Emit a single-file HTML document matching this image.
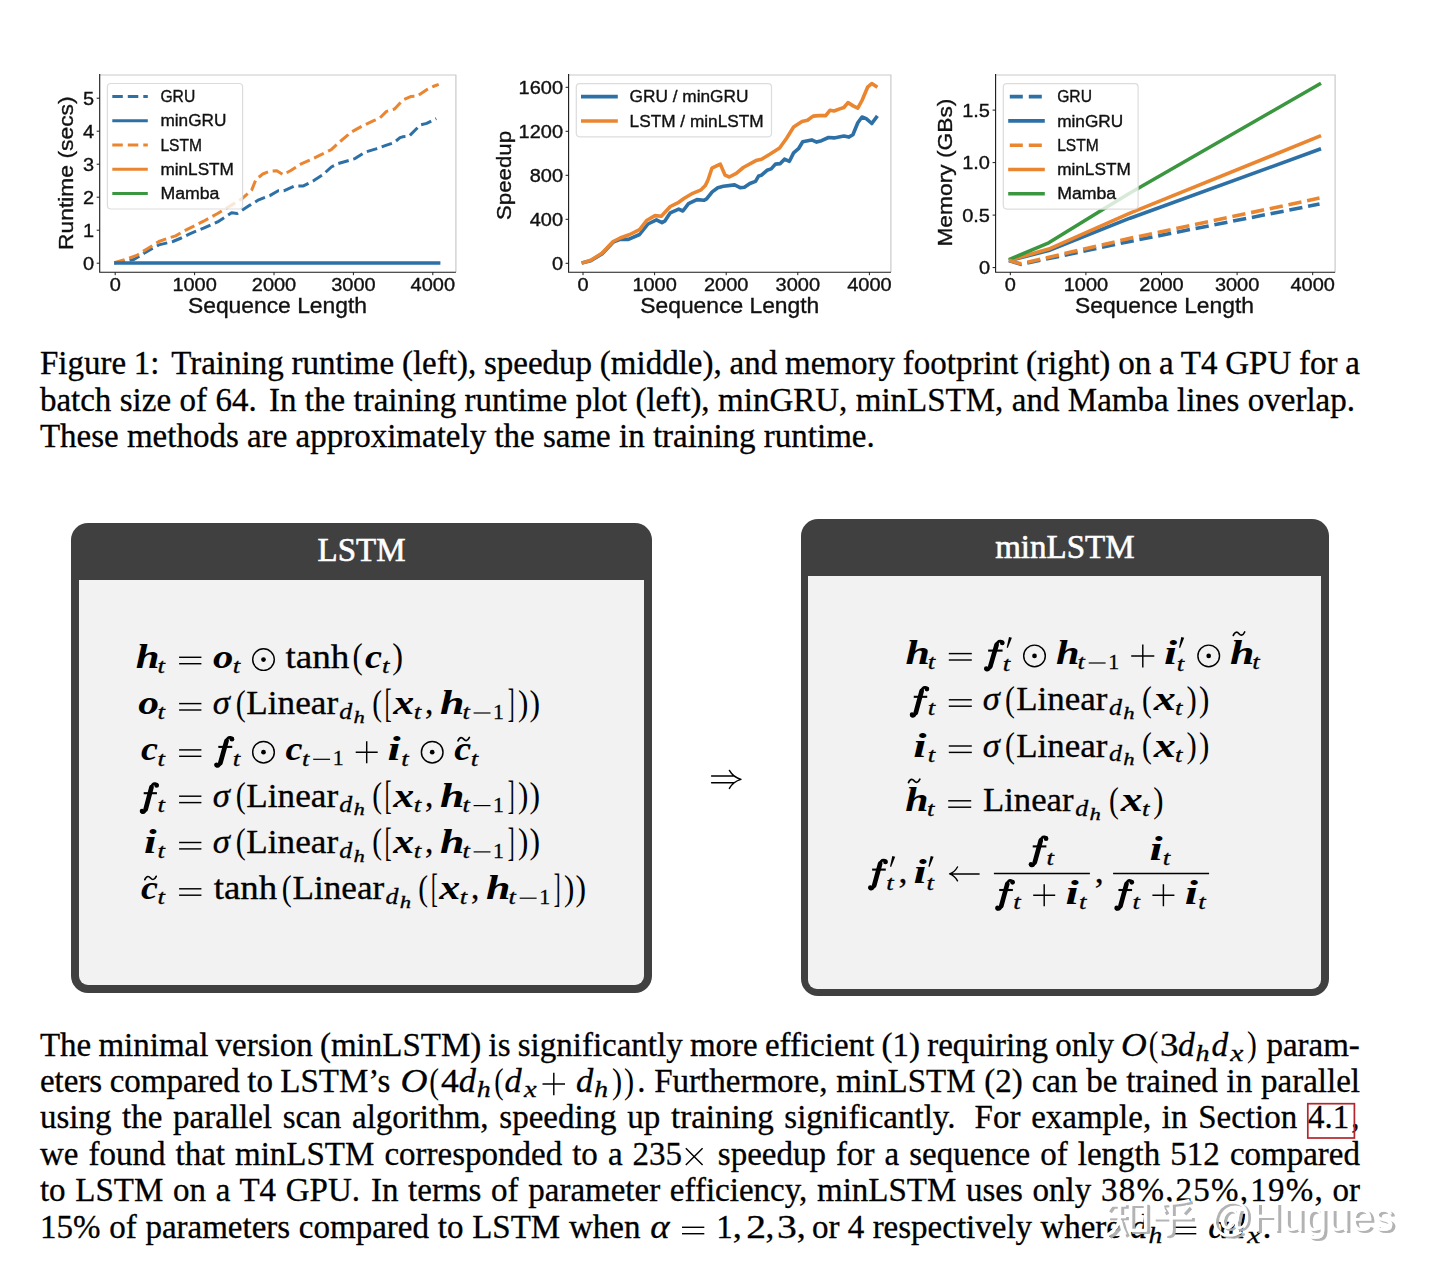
<!DOCTYPE html>
<html><head><meta charset="utf-8"><title>minLSTM</title>
<style>
html,body{margin:0;padding:0;background:#fff;}
body{width:1432px;height:1282px;position:relative;overflow:hidden;font-family:"Liberation Serif",serif;color:#000;}
svg{position:absolute;left:0;top:0;}
svg text{fill:#000;}
.sans text{font-family:"Liberation Sans",sans-serif;fill:#111;stroke:#111;stroke-width:0.35px;}
.eq text{font-family:"Liberation Serif",serif;stroke:#000;stroke-width:0.3px;}
.eq text.ns{stroke:none;}
.ln{position:absolute;-webkit-text-stroke:0.3px #000;height:40px;line-height:40px;font-size:33.0px;white-space:nowrap;}
.xs{display:inline-block;width:3.8px;}
.pc{letter-spacing:1.25px;}
.box{position:absolute;background:#404040;border-radius:17px;}
.box .in{position:absolute;background:#f2f2f2;border-radius:0 0 9px 9px;}
.box .hd{-webkit-text-stroke:0.6px #fff;position:absolute;left:0;right:0;top:0;color:#fff;font-size:33px;text-align:center;}
</style></head><body>
<svg class="sans" style="filter:blur(0.55px)" width="1432" height="340" viewBox="0 0 1432 340">
<polyline points="114.2,263.1 133.8,259.6 145.0,252.6 158.9,244.9 172.9,241.5 181.3,238.0 189.7,233.8 203.6,228.2 217.6,221.9 231.6,212.8 237.2,213.5 250.0,205.1 258.7,199.8 269.8,195.6 278.2,190.8 283.8,190.8 295.0,185.9 303.4,185.9 313.1,181.0 322.9,174.7 331.3,167.0 338.3,163.5 348.0,160.7 355.0,158.6 364.8,152.3 376.0,148.9 385.8,145.4 394.1,142.6 400.0,137.7 402.6,136.8 409.0,136.3 417.0,128.3 420.3,125.0 426.7,123.4 436.3,118.6" fill="none" stroke="#2d70a6" stroke-width="3.0" stroke-linejoin="round" stroke-dasharray="10.8 4.8"/>
<polyline points="114.2,262.7 125.4,259.6 136.6,255.4 147.8,248.4 158.9,241.5 168.7,238.0 175.7,235.9 184.1,231.0 195.3,225.4 203.6,221.2 217.6,213.5 231.6,205.1 242.7,198.2 251.7,190.1 255.9,179.6 262.8,174.0 269.8,171.2 276.8,170.8 283.1,174.7 290.8,170.5 300.6,164.2 311.7,159.3 320.1,155.1 331.3,149.6 339.7,141.9 348.0,134.9 349.6,133.1 362.4,125.9 373.7,120.7 380.1,117.8 386.5,111.4 394.6,109.0 402.6,100.2 410.6,96.6 417.0,96.1 426.7,89.7 433.1,86.5 438.7,84.4" fill="none" stroke="#ea8530" stroke-width="3.0" stroke-linejoin="round" stroke-dasharray="10.8 4.8"/>
<line x1="114.2" y1="263.0" x2="440.4" y2="263.0" stroke="#2d70a6" stroke-width="3.3"/>
<rect x="107.4" y="83.5" width="135.2" height="125.5" rx="3.5" fill="#fff" fill-opacity="0.8" stroke="#d8d8d8" stroke-opacity="0.9" stroke-width="1.2"/>
<line x1="112.3" y1="96.6" x2="147.8" y2="96.6" stroke="#2d70a6" stroke-width="3.0" stroke-dasharray="10.5 5"/>
<text x="160.4" y="102.2" font-size="16" text-anchor="start" textLength="34.8" lengthAdjust="spacingAndGlyphs">GRU</text>
<line x1="112.3" y1="120.8" x2="147.8" y2="120.8" stroke="#2d70a6" stroke-width="3.0"/>
<text x="160.4" y="126.4" font-size="16" text-anchor="start" textLength="66.0" lengthAdjust="spacingAndGlyphs">minGRU</text>
<line x1="112.3" y1="145.0" x2="147.8" y2="145.0" stroke="#ea8530" stroke-width="3.0" stroke-dasharray="10.5 5"/>
<text x="160.4" y="150.6" font-size="16" text-anchor="start" textLength="41.5" lengthAdjust="spacingAndGlyphs">LSTM</text>
<line x1="112.3" y1="169.2" x2="147.8" y2="169.2" stroke="#ea8530" stroke-width="3.0"/>
<text x="160.4" y="174.8" font-size="16" text-anchor="start" textLength="73.5" lengthAdjust="spacingAndGlyphs">minLSTM</text>
<line x1="112.3" y1="193.4" x2="147.8" y2="193.4" stroke="#3b973f" stroke-width="3.0"/>
<text x="160.4" y="199.0" font-size="16" text-anchor="start" textLength="59.0" lengthAdjust="spacingAndGlyphs">Mamba</text>
<path d="M99.7 75.0H455.9V272.2" fill="none" stroke="#c9c9c9" stroke-width="1.2"/>
<path d="M99.7 74.0V272.2H455.9" fill="none" stroke="#1a1a1a" stroke-width="1.1"/>
<line x1="115.2" y1="272.2" x2="115.2" y2="275.2" stroke="#1a1a1a" stroke-width="1.0"/>
<text x="115.2" y="291.2" font-size="18" text-anchor="middle" textLength="11.1" lengthAdjust="spacingAndGlyphs">0</text>
<line x1="194.6" y1="272.2" x2="194.6" y2="275.2" stroke="#1a1a1a" stroke-width="1.0"/>
<text x="194.6" y="291.2" font-size="18" text-anchor="middle" textLength="44.4" lengthAdjust="spacingAndGlyphs">1000</text>
<line x1="274.0" y1="272.2" x2="274.0" y2="275.2" stroke="#1a1a1a" stroke-width="1.0"/>
<text x="274.0" y="291.2" font-size="18" text-anchor="middle" textLength="44.4" lengthAdjust="spacingAndGlyphs">2000</text>
<line x1="353.4" y1="272.2" x2="353.4" y2="275.2" stroke="#1a1a1a" stroke-width="1.0"/>
<text x="353.4" y="291.2" font-size="18" text-anchor="middle" textLength="44.4" lengthAdjust="spacingAndGlyphs">3000</text>
<line x1="432.8" y1="272.2" x2="432.8" y2="275.2" stroke="#1a1a1a" stroke-width="1.0"/>
<text x="432.8" y="291.2" font-size="18" text-anchor="middle" textLength="44.4" lengthAdjust="spacingAndGlyphs">4000</text>
<line x1="96.7" y1="263.2" x2="99.7" y2="263.2" stroke="#1a1a1a" stroke-width="1.0"/>
<text x="94.1" y="270.0" font-size="18" text-anchor="end" textLength="11.1" lengthAdjust="spacingAndGlyphs">0</text>
<line x1="96.7" y1="230.2" x2="99.7" y2="230.2" stroke="#1a1a1a" stroke-width="1.0"/>
<text x="94.1" y="237.0" font-size="18" text-anchor="end" textLength="11.1" lengthAdjust="spacingAndGlyphs">1</text>
<line x1="96.7" y1="197.2" x2="99.7" y2="197.2" stroke="#1a1a1a" stroke-width="1.0"/>
<text x="94.1" y="204.0" font-size="18" text-anchor="end" textLength="11.1" lengthAdjust="spacingAndGlyphs">2</text>
<line x1="96.7" y1="164.2" x2="99.7" y2="164.2" stroke="#1a1a1a" stroke-width="1.0"/>
<text x="94.1" y="171.0" font-size="18" text-anchor="end" textLength="11.1" lengthAdjust="spacingAndGlyphs">3</text>
<line x1="96.7" y1="131.2" x2="99.7" y2="131.2" stroke="#1a1a1a" stroke-width="1.0"/>
<text x="94.1" y="138.0" font-size="18" text-anchor="end" textLength="11.1" lengthAdjust="spacingAndGlyphs">4</text>
<line x1="96.7" y1="98.2" x2="99.7" y2="98.2" stroke="#1a1a1a" stroke-width="1.0"/>
<text x="94.1" y="105.0" font-size="18" text-anchor="end" textLength="11.1" lengthAdjust="spacingAndGlyphs">5</text>
<text x="277.5" y="313.3" font-size="22" text-anchor="middle" textLength="179" lengthAdjust="spacingAndGlyphs">Sequence Length</text>
<text transform="translate(73.3 173.2) rotate(-90)" font-size="21" text-anchor="middle" textLength="153.6" lengthAdjust="spacingAndGlyphs">Runtime (secs)</text>
<polyline points="581.6,263.1 590.7,260.7 601.9,254.0 613.1,242.2 620.1,239.4 628.4,239.4 639.6,234.5 648.0,224.0 656.4,219.8 662.0,222.6 664.7,221.2 670.3,212.8 678.7,209.1 682.9,211.0 688.5,203.7 696.9,199.6 703.9,200.3 706.6,198.9 712.2,191.9 717.8,187.7 723.4,186.3 734.6,184.9 740.2,187.7 744.4,187.3 749.9,183.5 755.5,181.4 758.7,175.9 761.5,175.2 767.0,170.3 771.2,168.9 775.4,164.1 780.3,163.6 784.5,159.2 789.4,161.3 793.6,152.9 798.5,148.7 802.7,141.7 811.7,139.9 816.6,142.1 821.5,140.7 828.5,137.5 834.1,137.9 843.9,136.1 848.7,137.1 852.9,134.7 857.8,122.8 862.0,117.0 866.2,118.7 871.8,123.5 877.4,115.9" fill="none" stroke="#2d70a6" stroke-width="3.6" stroke-linejoin="round"/>
<polyline points="581.6,263.1 590.7,260.3 601.9,253.3 613.1,241.5 620.1,238.0 629.8,234.5 639.6,229.6 646.6,220.5 655.0,215.6 661.3,216.3 670.3,206.5 678.7,202.3 684.3,198.2 692.7,193.3 701.1,189.8 705.3,185.6 708.0,180.0 711.9,168.2 720.3,164.1 725.1,175.2 729.3,177.0 736.3,173.4 743.3,167.5 755.9,160.6 761.5,159.2 769.8,154.3 779.6,148.0 786.6,138.2 793.6,127.0 802.0,121.5 807.5,120.3 813.1,116.1 818.7,115.6 825.7,115.6 829.9,110.3 834.1,111.0 839.7,108.9 843.9,107.5 848.0,102.6 853.6,106.1 857.8,108.2 862.0,100.5 867.6,87.2 871.8,83.5 877.4,87.2" fill="none" stroke="#ea8530" stroke-width="3.6" stroke-linejoin="round"/>
<rect x="576.3" y="83.6" width="195.2" height="53.2" rx="3.5" fill="#fff" fill-opacity="0.8" stroke="#d8d8d8" stroke-opacity="0.9" stroke-width="1.2"/>
<line x1="581.0" y1="96.6" x2="617.8" y2="96.6" stroke="#2d70a6" stroke-width="3.6"/>
<text x="629.6" y="102.2" font-size="16" text-anchor="start" textLength="118.8" lengthAdjust="spacingAndGlyphs">GRU / minGRU</text>
<line x1="581.0" y1="121.0" x2="617.8" y2="121.0" stroke="#ea8530" stroke-width="3.6"/>
<text x="629.6" y="126.6" font-size="16" text-anchor="start" textLength="134.0" lengthAdjust="spacingAndGlyphs">LSTM / minLSTM</text>
<path d="M568.6 75.0H890.9V272.2" fill="none" stroke="#c9c9c9" stroke-width="1.2"/>
<path d="M568.6 74.0V272.2H890.9" fill="none" stroke="#1a1a1a" stroke-width="1.1"/>
<line x1="583.0" y1="272.2" x2="583.0" y2="275.2" stroke="#1a1a1a" stroke-width="1.0"/>
<text x="583.0" y="291.2" font-size="18" text-anchor="middle" textLength="11.1" lengthAdjust="spacingAndGlyphs">0</text>
<line x1="654.6" y1="272.2" x2="654.6" y2="275.2" stroke="#1a1a1a" stroke-width="1.0"/>
<text x="654.6" y="291.2" font-size="18" text-anchor="middle" textLength="44.4" lengthAdjust="spacingAndGlyphs">1000</text>
<line x1="726.2" y1="272.2" x2="726.2" y2="275.2" stroke="#1a1a1a" stroke-width="1.0"/>
<text x="726.2" y="291.2" font-size="18" text-anchor="middle" textLength="44.4" lengthAdjust="spacingAndGlyphs">2000</text>
<line x1="797.8" y1="272.2" x2="797.8" y2="275.2" stroke="#1a1a1a" stroke-width="1.0"/>
<text x="797.8" y="291.2" font-size="18" text-anchor="middle" textLength="44.4" lengthAdjust="spacingAndGlyphs">3000</text>
<line x1="869.4" y1="272.2" x2="869.4" y2="275.2" stroke="#1a1a1a" stroke-width="1.0"/>
<text x="869.4" y="291.2" font-size="18" text-anchor="middle" textLength="44.4" lengthAdjust="spacingAndGlyphs">4000</text>
<line x1="565.6" y1="263.3" x2="568.6" y2="263.3" stroke="#1a1a1a" stroke-width="1.0"/>
<text x="563.0" y="270.1" font-size="18" text-anchor="end" textLength="11.1" lengthAdjust="spacingAndGlyphs">0</text>
<line x1="565.6" y1="219.3" x2="568.6" y2="219.3" stroke="#1a1a1a" stroke-width="1.0"/>
<text x="563.0" y="226.1" font-size="18" text-anchor="end" textLength="33.3" lengthAdjust="spacingAndGlyphs">400</text>
<line x1="565.6" y1="175.3" x2="568.6" y2="175.3" stroke="#1a1a1a" stroke-width="1.0"/>
<text x="563.0" y="182.1" font-size="18" text-anchor="end" textLength="33.3" lengthAdjust="spacingAndGlyphs">800</text>
<line x1="565.6" y1="131.3" x2="568.6" y2="131.3" stroke="#1a1a1a" stroke-width="1.0"/>
<text x="563.0" y="138.1" font-size="18" text-anchor="end" textLength="44.4" lengthAdjust="spacingAndGlyphs">1200</text>
<line x1="565.6" y1="87.3" x2="568.6" y2="87.3" stroke="#1a1a1a" stroke-width="1.0"/>
<text x="563.0" y="94.1" font-size="18" text-anchor="end" textLength="44.4" lengthAdjust="spacingAndGlyphs">1600</text>
<text x="729.8" y="313.3" font-size="22" text-anchor="middle" textLength="179" lengthAdjust="spacingAndGlyphs">Sequence Length</text>
<text transform="translate(511.4 175.5) rotate(-90)" font-size="21" text-anchor="middle" textLength="89" lengthAdjust="spacingAndGlyphs">Speedup</text>
<polyline points="1008.9,260.7 1048.7,250.5 1130.0,218.2 1321.0,148.8" fill="none" stroke="#2d70a6" stroke-width="3.6" stroke-linejoin="round"/>
<polyline points="1008.9,260.3 1048.7,249.1 1130.0,213.2 1321.0,135.7" fill="none" stroke="#ea8530" stroke-width="3.6" stroke-linejoin="round"/>
<polyline points="1008.9,259.6 1048.7,242.8 1103.2,209.3 1130.0,193.0 1321.0,83.3" fill="none" stroke="#3b973f" stroke-width="3.6" stroke-linejoin="round"/>
<polyline points="1008.9,260.5 1020.8,264.4 1130.0,241.4 1319.5,204.1" fill="none" stroke="#2d70a6" stroke-width="3.6" stroke-linejoin="round" stroke-dasharray="13.3 5.8"/>
<polyline points="1008.9,260.3 1020.8,263.8 1130.0,238.3 1319.5,198.1" fill="none" stroke="#ea8530" stroke-width="3.6" stroke-linejoin="round" stroke-dasharray="13.3 5.8"/>
<rect x="1003.3" y="83.6" width="134.8" height="125.5" rx="3.5" fill="#fff" fill-opacity="0.8" stroke="#d8d8d8" stroke-opacity="0.9" stroke-width="1.2"/>
<line x1="1009.8" y1="96.6" x2="1042" y2="96.6" stroke="#2d70a6" stroke-width="3.6" stroke-dasharray="13 6"/>
<text x="1057.2" y="102.2" font-size="16" text-anchor="start" textLength="34.8" lengthAdjust="spacingAndGlyphs">GRU</text>
<line x1="1008.2" y1="120.9" x2="1044.8" y2="120.9" stroke="#2d70a6" stroke-width="3.6"/>
<text x="1057.2" y="126.5" font-size="16" text-anchor="start" textLength="66.0" lengthAdjust="spacingAndGlyphs">minGRU</text>
<line x1="1009.8" y1="145.2" x2="1042" y2="145.2" stroke="#ea8530" stroke-width="3.6" stroke-dasharray="13 6"/>
<text x="1057.2" y="150.8" font-size="16" text-anchor="start" textLength="41.5" lengthAdjust="spacingAndGlyphs">LSTM</text>
<line x1="1008.2" y1="169.5" x2="1044.8" y2="169.5" stroke="#ea8530" stroke-width="3.6"/>
<text x="1057.2" y="175.1" font-size="16" text-anchor="start" textLength="73.5" lengthAdjust="spacingAndGlyphs">minLSTM</text>
<line x1="1008.2" y1="193.8" x2="1044.8" y2="193.8" stroke="#3b973f" stroke-width="3.6"/>
<text x="1057.2" y="199.4" font-size="16" text-anchor="start" textLength="59.0" lengthAdjust="spacingAndGlyphs">Mamba</text>
<path d="M995.6 75.0H1335.1V272.2" fill="none" stroke="#c9c9c9" stroke-width="1.2"/>
<path d="M995.6 74.0V272.2H1335.1" fill="none" stroke="#1a1a1a" stroke-width="1.1"/>
<line x1="1010.3" y1="272.2" x2="1010.3" y2="275.2" stroke="#1a1a1a" stroke-width="1.0"/>
<text x="1010.3" y="291.2" font-size="18" text-anchor="middle" textLength="11.1" lengthAdjust="spacingAndGlyphs">0</text>
<line x1="1085.9" y1="272.2" x2="1085.9" y2="275.2" stroke="#1a1a1a" stroke-width="1.0"/>
<text x="1085.9" y="291.2" font-size="18" text-anchor="middle" textLength="44.4" lengthAdjust="spacingAndGlyphs">1000</text>
<line x1="1161.5" y1="272.2" x2="1161.5" y2="275.2" stroke="#1a1a1a" stroke-width="1.0"/>
<text x="1161.5" y="291.2" font-size="18" text-anchor="middle" textLength="44.4" lengthAdjust="spacingAndGlyphs">2000</text>
<line x1="1237.1" y1="272.2" x2="1237.1" y2="275.2" stroke="#1a1a1a" stroke-width="1.0"/>
<text x="1237.1" y="291.2" font-size="18" text-anchor="middle" textLength="44.4" lengthAdjust="spacingAndGlyphs">3000</text>
<line x1="1312.7" y1="272.2" x2="1312.7" y2="275.2" stroke="#1a1a1a" stroke-width="1.0"/>
<text x="1312.7" y="291.2" font-size="18" text-anchor="middle" textLength="44.4" lengthAdjust="spacingAndGlyphs">4000</text>
<line x1="992.6" y1="267.6" x2="995.6" y2="267.6" stroke="#1a1a1a" stroke-width="1.0"/>
<text x="990.0" y="274.4" font-size="18" text-anchor="end" textLength="11.1" lengthAdjust="spacingAndGlyphs">0</text>
<line x1="992.6" y1="215.1" x2="995.6" y2="215.1" stroke="#1a1a1a" stroke-width="1.0"/>
<text x="990.0" y="221.9" font-size="18" text-anchor="end" textLength="27.8" lengthAdjust="spacingAndGlyphs">0.5</text>
<line x1="992.6" y1="162.6" x2="995.6" y2="162.6" stroke="#1a1a1a" stroke-width="1.0"/>
<text x="990.0" y="169.4" font-size="18" text-anchor="end" textLength="27.8" lengthAdjust="spacingAndGlyphs">1.0</text>
<line x1="992.6" y1="110.1" x2="995.6" y2="110.1" stroke="#1a1a1a" stroke-width="1.0"/>
<text x="990.0" y="116.9" font-size="18" text-anchor="end" textLength="27.8" lengthAdjust="spacingAndGlyphs">1.5</text>
<text x="1164.5" y="313.3" font-size="22" text-anchor="middle" textLength="179" lengthAdjust="spacingAndGlyphs">Sequence Length</text>
<text transform="translate(952.4 172.6) rotate(-90)" font-size="21" text-anchor="middle" textLength="148" lengthAdjust="spacingAndGlyphs">Memory (GBs)</text>
</svg>
<div class="ln" id="s_c0" style="left:39.9px;top:343.06px;word-spacing:-0.452px"><span class="w">Figure 1:<span class="xs" style="width:4.5px"></span> Training runtime (left), speedup (middle), and memory footprint (right) on a T4 GPU for a</span></div>
<div class="ln" id="s_c1" style="left:39.9px;top:379.66px;word-spacing:0.171px"><span class="w">batch size of 64.<span class="xs" style="width:3.8px"></span> In the training runtime plot (left), minGRU, minLSTM, and Mamba lines overlap.</span></div>
<div class="ln" id="s_c2" style="left:39.9px;top:416.26px;word-spacing:0.000px"><span class="w">These methods are approximately the same in training runtime.</span></div>
<div class="ln" id="s_b0a" style="left:39.9px;top:1024.56px;word-spacing:-1.040px"><span class="w">The minimal version (minLSTM) is significantly more efficient (1) requiring only</span></div>
<div class="ln" id="s_b0b" style="left:1266.4px;top:1024.56px;word-spacing:0.000px"><span class="w">param-</span></div>
<div class="ln" id="s_b1a" style="left:39.9px;top:1060.98px;word-spacing:-0.781px"><span class="w">eters compared to LSTM’s</span></div>
<div class="ln" id="s_b1b" style="left:637.2px;top:1060.98px;word-spacing:0.543px"><span class="w">. Furthermore, minLSTM (2) can be trained in parallel</span></div>
<div class="ln" id="s_b2" style="left:39.9px;top:1097.40px;word-spacing:2.442px"><span class="w">using the parallel scan algorithm, speeding up training significantly.<span class="xs" style="width:8.5px"></span> For example, in Section 4.1<span class="xs" style="width:2.2px"></span>,</span></div>
<div class="ln" id="s_b3" style="left:39.9px;top:1133.82px;word-spacing:1.800px"><span class="w">we found that minLSTM corresponded to a 235<span class="xs" style="width:25.7px"></span> speedup for a sequence of length 512 compared</span></div>
<div class="ln" id="s_b4" style="left:39.9px;top:1170.24px;word-spacing:1.444px"><span class="w">to LSTM on a T4 GPU.<span class="xs" style="width:1.2px"></span> In terms of parameter efficiency, minLSTM uses only <span class="pc">38%</span>,<span class="xs" style="width:2.2px"></span><span class="pc">25%</span>,<span class="xs" style="width:2.2px"></span><span class="pc">19%</span>, or</span></div>
<div class="ln" id="s_b5a" style="left:39.9px;top:1206.66px;word-spacing:0.503px"><span class="w">15% of parameters compared to LSTM when</span></div>
<div class="ln" id="s_b5b" style="left:812.0px;top:1206.66px;word-spacing:0.073px"><span class="w">or 4 respectively where</span></div>
<div class="box" style="left:71.2px;top:522.8px;width:580.7px;height:469.8px;"><div class="hd" style="height:57px;line-height:55px;">LSTM</div><div class="in" style="left:7.6px;top:56.8px;right:7.6px;bottom:7.6px;"></div></div>
<div class="box" style="left:800.9px;top:519.0px;width:527.9px;height:477.2px;"><div class="hd" style="height:57px;line-height:57.4px;">minLSTM</div><div class="in" style="left:7.4px;top:57.0px;right:7.6px;bottom:7.5px;"></div></div>
<svg class="eq" width="1432" height="1282" viewBox="0 0 1432 1282">
<path d="M711.6 776.0H734.2M711.6 782.7H734.2M729.4 770.4C732.0 775.0 736.0 778.0 741.0 779.35C736.0 780.7 732.0 783.8 729.4 788.4" fill="none" stroke="#000" stroke-width="1.45" stroke-linecap="round" stroke-linejoin="round"/>
<g fill="none" stroke="#000"><path d="M151.51 787.20L145.65 809.30" stroke-width="4.7" stroke-linecap="round"/><path d="M151.10 788.20C151.82 784.70 153.46 783.50 155.20 783.70C156.54 783.90 157.36 784.50 157.26 785.40" stroke-width="2.7" stroke-linecap="round"/><path d="M146.06 807.90C145.34 811.30 144.11 812.90 142.67 812.70C141.75 812.60 141.24 812.00 141.44 811.20" stroke-width="2.7" stroke-linecap="round"/><path d="M143.70 793.20H156.95" stroke-width="2.1"/><circle cx="156.64" cy="785.50" r="2.35" fill="#000" stroke="none"/><circle cx="142.06" cy="811.10" r="2.35" fill="#000" stroke="none"/></g>
<path d="M144.8 879.7C146.9 875.1 149.1 876.4 150.5 878.0S154.1 880.9 156.2 876.3" fill="none" stroke="#000" stroke-width="1.7" stroke-linecap="round"/>
<line x1="179.1" y1="657.3" x2="201.4" y2="657.3" stroke="#000" stroke-width="1.45"/>
<line x1="179.1" y1="663.7" x2="201.4" y2="663.7" stroke="#000" stroke-width="1.45"/>
<line x1="179.1" y1="703.6" x2="201.4" y2="703.6" stroke="#000" stroke-width="1.45"/>
<line x1="179.1" y1="710.0" x2="201.4" y2="710.0" stroke="#000" stroke-width="1.45"/>
<line x1="179.1" y1="749.9" x2="201.4" y2="749.9" stroke="#000" stroke-width="1.45"/>
<line x1="179.1" y1="756.3" x2="201.4" y2="756.3" stroke="#000" stroke-width="1.45"/>
<line x1="179.1" y1="796.2" x2="201.4" y2="796.2" stroke="#000" stroke-width="1.45"/>
<line x1="179.1" y1="802.6" x2="201.4" y2="802.6" stroke="#000" stroke-width="1.45"/>
<line x1="179.1" y1="842.5" x2="201.4" y2="842.5" stroke="#000" stroke-width="1.45"/>
<line x1="179.1" y1="848.9" x2="201.4" y2="848.9" stroke="#000" stroke-width="1.45"/>
<line x1="179.1" y1="888.8" x2="201.4" y2="888.8" stroke="#000" stroke-width="1.45"/>
<line x1="179.1" y1="895.2" x2="201.4" y2="895.2" stroke="#000" stroke-width="1.45"/>
<circle cx="263.5" cy="659.6" r="10.8" fill="none" stroke="#000" stroke-width="1.45"/><circle cx="263.5" cy="659.6" r="2.35" fill="#000"/>
<line x1="473.6" y1="713.0" x2="490.5" y2="713.0" stroke="#000" stroke-width="1.2"/>
<line x1="473.6" y1="805.6" x2="490.5" y2="805.6" stroke="#000" stroke-width="1.2"/>
<line x1="473.6" y1="851.9" x2="490.5" y2="851.9" stroke="#000" stroke-width="1.2"/>
<g fill="none" stroke="#000"><path d="M226.52 740.90L220.36 763.00" stroke-width="4.7" stroke-linecap="round"/><path d="M226.09 741.90C226.85 738.40 228.58 737.20 230.41 737.40C231.82 737.60 232.69 738.20 232.58 739.10" stroke-width="2.7" stroke-linecap="round"/><path d="M220.79 761.60C220.03 765.00 218.73 766.60 217.22 766.40C216.25 766.30 215.71 765.70 215.92 764.90" stroke-width="2.7" stroke-linecap="round"/><path d="M218.30 746.90H232.25" stroke-width="2.1"/><circle cx="231.93" cy="739.20" r="2.35" fill="#000" stroke="none"/><circle cx="216.57" cy="764.80" r="2.35" fill="#000" stroke="none"/></g>
<circle cx="263.5" cy="752.2" r="10.8" fill="none" stroke="#000" stroke-width="1.45"/><circle cx="263.5" cy="752.2" r="2.35" fill="#000"/>
<line x1="313.2" y1="759.3" x2="330.1" y2="759.3" stroke="#000" stroke-width="1.2"/>
<path d="M355.7 752.2H377.7M366.7 741.2V763.2" stroke="#000" stroke-width="1.45" fill="none"/>
<circle cx="432.2" cy="752.2" r="10.8" fill="none" stroke="#000" stroke-width="1.45"/><circle cx="432.2" cy="752.2" r="2.35" fill="#000"/>
<path d="M458.0 740.8C460.1 736.2 462.3 737.5 463.7 739.1S467.3 742.0 469.4 737.4" fill="none" stroke="#000" stroke-width="1.7" stroke-linecap="round"/>
<line x1="519.7" y1="898.2" x2="536.6" y2="898.2" stroke="#000" stroke-width="1.2"/>
<line x1="948.8" y1="653.6" x2="971.8" y2="653.6" stroke="#000" stroke-width="1.45"/>
<line x1="948.8" y1="660.0" x2="971.8" y2="660.0" stroke="#000" stroke-width="1.45"/>
<g fill="none" stroke="#000"><path d="M996.65 644.60L990.27 666.70" stroke-width="4.7" stroke-linecap="round"/><path d="M996.20 645.60C996.99 642.10 998.78 640.90 1000.68 641.10C1002.14 641.30 1003.03 641.90 1002.92 642.80" stroke-width="2.7" stroke-linecap="round"/><path d="M990.72 665.30C989.93 668.70 988.59 670.30 987.02 670.10C986.02 670.00 985.46 669.40 985.68 668.60" stroke-width="2.7" stroke-linecap="round"/><path d="M988.14 650.60H1002.58" stroke-width="2.1"/><circle cx="1002.25" cy="642.90" r="2.35" fill="#000" stroke="none"/><circle cx="986.35" cy="668.50" r="2.35" fill="#000" stroke="none"/></g>
<path d="M1011.9 637.7L1009.0 636.9L1006.7 647.5L1007.8 648.0Z" fill="#000"/>
<circle cx="1034.5" cy="655.9" r="10.8" fill="none" stroke="#000" stroke-width="1.45"/><circle cx="1034.5" cy="655.9" r="2.35" fill="#000"/>
<line x1="1088.7" y1="663.0" x2="1105.6" y2="663.0" stroke="#000" stroke-width="1.2"/>
<path d="M1131.2 655.9H1154.3M1142.8 644.4V667.4" stroke="#000" stroke-width="1.45" fill="none"/>
<path d="M1184.2 637.7L1181.3 636.9L1179.0 647.5L1180.1 648.0Z" fill="#000"/>
<circle cx="1208.7" cy="655.9" r="10.8" fill="none" stroke="#000" stroke-width="1.45"/><circle cx="1208.7" cy="655.9" r="2.35" fill="#000"/>
<path d="M1233.3 635.4C1235.4 630.8 1237.6 632.1 1239.0 633.7S1242.6 636.6 1244.7 632.0" fill="none" stroke="#000" stroke-width="1.7" stroke-linecap="round"/>
<g fill="none" stroke="#000"><path d="M921.69 690.80L915.74 712.90" stroke-width="4.7" stroke-linecap="round"/><path d="M921.27 691.80C922.00 688.30 923.67 687.10 925.45 687.30C926.80 687.50 927.64 688.10 927.53 689.00" stroke-width="2.7" stroke-linecap="round"/><path d="M916.16 711.50C915.43 714.90 914.18 716.50 912.72 716.30C911.78 716.20 911.26 715.60 911.47 714.80" stroke-width="2.7" stroke-linecap="round"/><path d="M913.76 696.80H927.22" stroke-width="2.1"/><circle cx="926.91" cy="689.10" r="2.35" fill="#000" stroke="none"/><circle cx="912.09" cy="714.70" r="2.35" fill="#000" stroke="none"/></g>
<line x1="948.8" y1="699.8" x2="971.8" y2="699.8" stroke="#000" stroke-width="1.45"/>
<line x1="948.8" y1="706.2" x2="971.8" y2="706.2" stroke="#000" stroke-width="1.45"/>
<line x1="948.8" y1="746.0" x2="971.8" y2="746.0" stroke="#000" stroke-width="1.45"/>
<line x1="948.8" y1="752.4" x2="971.8" y2="752.4" stroke="#000" stroke-width="1.45"/>
<path d="M908.5 782.6C910.6 778.0 912.8 779.3 914.2 780.9S917.8 783.8 919.9 779.2" fill="none" stroke="#000" stroke-width="1.7" stroke-linecap="round"/>
<line x1="948.2" y1="800.8" x2="971.2" y2="800.8" stroke="#000" stroke-width="1.45"/>
<line x1="948.2" y1="807.2" x2="971.2" y2="807.2" stroke="#000" stroke-width="1.45"/>
<g fill="none" stroke="#000"><path d="M880.18 863.60L874.13 885.70" stroke-width="4.7" stroke-linecap="round"/><path d="M879.75 864.60C880.49 861.10 882.19 859.90 883.99 860.10C885.37 860.30 886.22 860.90 886.11 861.80" stroke-width="2.7" stroke-linecap="round"/><path d="M874.56 884.30C873.82 887.70 872.55 889.30 871.06 889.10C870.11 889.00 869.58 888.40 869.79 887.60" stroke-width="2.7" stroke-linecap="round"/><path d="M872.12 869.60H885.79" stroke-width="2.1"/><circle cx="885.47" cy="861.90" r="2.35" fill="#000" stroke="none"/><circle cx="870.43" cy="887.50" r="2.35" fill="#000" stroke="none"/></g>
<path d="M895.2 856.7L892.3 855.9L890.0 866.5L891.1 867.0Z" fill="#000"/>
<path d="M933.6 856.7L930.7 855.9L928.4 866.5L929.5 867.0Z" fill="#000"/>
<path d="M950.0 873.9H979.1M957.5 867.0C955.5 870.5 953.0 872.8 949.6 873.9C953.0 875.0 955.5 877.3 957.5 880.8" fill="none" stroke="#000" stroke-width="1.45" stroke-linejoin="round" stroke-linecap="round"/>
<line x1="993.9" y1="873.4" x2="1089.9" y2="873.4" stroke="#000" stroke-width="1.45"/>
<g fill="none" stroke="#000"><path d="M1040.78 840.40L1034.73 862.50" stroke-width="4.7" stroke-linecap="round"/><path d="M1040.35 841.40C1041.09 837.90 1042.79 836.70 1044.59 836.90C1045.97 837.10 1046.82 837.70 1046.71 838.60" stroke-width="2.7" stroke-linecap="round"/><path d="M1035.16 861.10C1034.42 864.50 1033.15 866.10 1031.66 865.90C1030.71 865.80 1030.18 865.20 1030.39 864.40" stroke-width="2.7" stroke-linecap="round"/><path d="M1032.72 846.40H1046.39" stroke-width="2.1"/><circle cx="1046.07" cy="838.70" r="2.35" fill="#000" stroke="none"/><circle cx="1031.03" cy="864.30" r="2.35" fill="#000" stroke="none"/></g>
<g fill="none" stroke="#000"><path d="M1007.28 884.00L1001.23 906.10" stroke-width="4.7" stroke-linecap="round"/><path d="M1006.85 885.00C1007.59 881.50 1009.29 880.30 1011.09 880.50C1012.47 880.70 1013.32 881.30 1013.21 882.20" stroke-width="2.7" stroke-linecap="round"/><path d="M1001.66 904.70C1000.92 908.10 999.65 909.70 998.16 909.50C997.21 909.40 996.68 908.80 996.89 908.00" stroke-width="2.7" stroke-linecap="round"/><path d="M999.22 890.00H1012.89" stroke-width="2.1"/><circle cx="1012.57" cy="882.30" r="2.35" fill="#000" stroke="none"/><circle cx="997.53" cy="907.90" r="2.35" fill="#000" stroke="none"/></g>
<path d="M1033.2 895.3H1055.2M1044.2 884.3V906.3" stroke="#000" stroke-width="1.45" fill="none"/>
<line x1="1113.1" y1="873.4" x2="1209.1" y2="873.4" stroke="#000" stroke-width="1.45"/>
<g fill="none" stroke="#000"><path d="M1126.48 884.00L1120.43 906.10" stroke-width="4.7" stroke-linecap="round"/><path d="M1126.05 885.00C1126.79 881.50 1128.49 880.30 1130.29 880.50C1131.67 880.70 1132.52 881.30 1132.41 882.20" stroke-width="2.7" stroke-linecap="round"/><path d="M1120.86 904.70C1120.12 908.10 1118.85 909.70 1117.36 909.50C1116.41 909.40 1115.88 908.80 1116.09 908.00" stroke-width="2.7" stroke-linecap="round"/><path d="M1118.42 890.00H1132.09" stroke-width="2.1"/><circle cx="1131.77" cy="882.30" r="2.35" fill="#000" stroke="none"/><circle cx="1116.73" cy="907.90" r="2.35" fill="#000" stroke="none"/></g>
<path d="M1152.4 895.3H1174.4M1163.4 884.3V906.3" stroke="#000" stroke-width="1.45" fill="none"/>
<path d="M542.5 1083.9H565.0M553.8 1072.7V1095.2" stroke="#000" stroke-width="1.45" fill="none"/>
<line x1="682.0" y1="1227.3" x2="704.3" y2="1227.3" stroke="#000" stroke-width="1.45"/>
<line x1="682.0" y1="1233.7" x2="704.3" y2="1233.7" stroke="#000" stroke-width="1.45"/>
<line x1="1173.6" y1="1227.3" x2="1196.3" y2="1227.3" stroke="#000" stroke-width="1.45"/>
<line x1="1173.6" y1="1233.7" x2="1196.3" y2="1233.7" stroke="#000" stroke-width="1.45"/>
<path d="M685.8 1148.3L702.6 1165.1M702.6 1148.3L685.8 1165.1" stroke="#000" stroke-width="1.45" fill="none"/>
<rect x="1307.8" y="1103.7" width="46.6" height="34.3" fill="none" stroke="#b5252b" stroke-width="1.7"/>
<text class="ns" transform="translate(135.63 667.80) scale(1.297 1.000)" font-size="33" font-style="italic" font-weight="bold">h</text>
<text transform="translate(157.47 672.90) scale(1.270 1.000)" font-size="21" font-style="italic">t</text>
<text class="ns" transform="translate(138.25 714.10) scale(1.257 1.000)" font-size="33" font-style="italic" font-weight="bold">o</text>
<text transform="translate(157.47 719.20) scale(1.270 1.000)" font-size="21" font-style="italic">t</text>
<text class="ns" transform="translate(141.00 760.40) scale(1.157 1.000)" font-size="33" font-style="italic" font-weight="bold">c</text>
<text transform="translate(157.47 765.50) scale(1.270 1.000)" font-size="21" font-style="italic">t</text>
<text transform="translate(157.47 811.80) scale(1.270 1.000)" font-size="21" font-style="italic">t</text>
<text class="ns" transform="translate(143.99 853.00) scale(1.369 1.000)" font-size="33" font-style="italic" font-weight="bold">i</text>
<text transform="translate(157.47 858.10) scale(1.270 1.000)" font-size="21" font-style="italic">t</text>
<text class="ns" transform="translate(141.00 899.30) scale(1.157 1.000)" font-size="33" font-style="italic" font-weight="bold">c</text>
<text transform="translate(157.47 904.40) scale(1.270 1.000)" font-size="21" font-style="italic">t</text>
<text class="ns" transform="translate(213.07 667.80) scale(1.231 1.000)" font-size="33" font-style="italic" font-weight="bold">o</text>
<text transform="translate(232.77 672.90) scale(1.270 1.000)" font-size="21" font-style="italic">t</text>
<text transform="translate(285.50 667.80) scale(1.125 1.000)" font-size="33">tanh</text>
<text class="ns" transform="translate(352.54 668.25) scale(0.927 1.088)" font-size="33">(</text>
<text class="ns" transform="translate(365.10 667.80) scale(1.164 1.000)" font-size="33" font-style="italic" font-weight="bold">c</text>
<text transform="translate(382.07 672.90) scale(1.270 1.000)" font-size="21" font-style="italic">t</text>
<text class="ns" transform="translate(392.29 668.25) scale(0.981 1.088)" font-size="33">)</text>
<text transform="translate(212.86 714.10) scale(1.052 1.000)" font-size="33" font-style="italic">σ</text>
<text class="ns" transform="translate(235.65 714.55) scale(0.908 1.088)" font-size="33">(</text>
<text transform="translate(246.35 714.10) scale(1.066 1.000)" font-size="33">Linear</text>
<text transform="translate(339.29 719.00) scale(1.130 1.000)" font-size="23" font-style="italic">d</text>
<text transform="translate(353.59 722.70) scale(1.331 1.000)" font-size="17" font-style="italic">h</text>
<text class="ns" transform="translate(372.25 714.55) scale(0.890 1.088)" font-size="33">(</text>
<text class="ns" transform="translate(384.82 716.88) scale(0.621 1.189)" font-size="33">[</text>
<text class="ns" transform="translate(393.15 714.10) scale(1.267 1.000)" font-size="33" font-style="italic" font-weight="bold">x</text>
<text transform="translate(413.67 719.20) scale(1.270 1.000)" font-size="21" font-style="italic">t</text>
<text transform="translate(424.96 714.10) scale(1.008 1.000)" font-size="33">,</text>
<text class="ns" transform="translate(440.01 714.10) scale(1.333 1.000)" font-size="33" font-style="italic" font-weight="bold">h</text>
<text transform="translate(462.38 719.20) scale(1.253 1.000)" font-size="21" font-style="italic">t</text>
<text transform="translate(493.09 719.00) scale(0.994 1.000)" font-size="22">1</text>
<text class="ns" transform="translate(507.66 716.88) scale(0.621 1.189)" font-size="33">]</text>
<text class="ns" transform="translate(517.90 714.55) scale(0.942 1.088)" font-size="33">)</text>
<text class="ns" transform="translate(529.49 714.55) scale(0.961 1.088)" font-size="33">)</text>
<text transform="translate(212.86 806.70) scale(1.052 1.000)" font-size="33" font-style="italic">σ</text>
<text class="ns" transform="translate(235.65 807.15) scale(0.908 1.088)" font-size="33">(</text>
<text transform="translate(246.35 806.70) scale(1.066 1.000)" font-size="33">Linear</text>
<text transform="translate(339.29 811.60) scale(1.130 1.000)" font-size="23" font-style="italic">d</text>
<text transform="translate(353.59 815.30) scale(1.331 1.000)" font-size="17" font-style="italic">h</text>
<text class="ns" transform="translate(372.25 807.15) scale(0.890 1.088)" font-size="33">(</text>
<text class="ns" transform="translate(384.82 809.48) scale(0.621 1.189)" font-size="33">[</text>
<text class="ns" transform="translate(393.15 806.70) scale(1.267 1.000)" font-size="33" font-style="italic" font-weight="bold">x</text>
<text transform="translate(413.67 811.80) scale(1.270 1.000)" font-size="21" font-style="italic">t</text>
<text transform="translate(424.96 806.70) scale(1.008 1.000)" font-size="33">,</text>
<text class="ns" transform="translate(440.01 806.70) scale(1.333 1.000)" font-size="33" font-style="italic" font-weight="bold">h</text>
<text transform="translate(462.38 811.80) scale(1.253 1.000)" font-size="21" font-style="italic">t</text>
<text transform="translate(493.09 811.60) scale(0.994 1.000)" font-size="22">1</text>
<text class="ns" transform="translate(507.66 809.48) scale(0.621 1.189)" font-size="33">]</text>
<text class="ns" transform="translate(517.90 807.15) scale(0.942 1.088)" font-size="33">)</text>
<text class="ns" transform="translate(529.49 807.15) scale(0.961 1.088)" font-size="33">)</text>
<text transform="translate(212.86 853.00) scale(1.052 1.000)" font-size="33" font-style="italic">σ</text>
<text class="ns" transform="translate(235.65 853.45) scale(0.908 1.088)" font-size="33">(</text>
<text transform="translate(246.35 853.00) scale(1.066 1.000)" font-size="33">Linear</text>
<text transform="translate(339.29 857.90) scale(1.130 1.000)" font-size="23" font-style="italic">d</text>
<text transform="translate(353.59 861.60) scale(1.331 1.000)" font-size="17" font-style="italic">h</text>
<text class="ns" transform="translate(372.25 853.45) scale(0.890 1.088)" font-size="33">(</text>
<text class="ns" transform="translate(384.82 855.78) scale(0.621 1.189)" font-size="33">[</text>
<text class="ns" transform="translate(393.15 853.00) scale(1.267 1.000)" font-size="33" font-style="italic" font-weight="bold">x</text>
<text transform="translate(413.67 858.10) scale(1.270 1.000)" font-size="21" font-style="italic">t</text>
<text transform="translate(424.96 853.00) scale(1.008 1.000)" font-size="33">,</text>
<text class="ns" transform="translate(440.01 853.00) scale(1.333 1.000)" font-size="33" font-style="italic" font-weight="bold">h</text>
<text transform="translate(462.38 858.10) scale(1.253 1.000)" font-size="21" font-style="italic">t</text>
<text transform="translate(493.09 857.90) scale(0.994 1.000)" font-size="22">1</text>
<text class="ns" transform="translate(507.66 855.78) scale(0.621 1.189)" font-size="33">]</text>
<text class="ns" transform="translate(517.90 853.45) scale(0.942 1.088)" font-size="33">)</text>
<text class="ns" transform="translate(529.49 853.45) scale(0.961 1.088)" font-size="33">)</text>
<text transform="translate(232.77 765.50) scale(1.270 1.000)" font-size="21" font-style="italic">t</text>
<text class="ns" transform="translate(285.50 760.40) scale(1.164 1.000)" font-size="33" font-style="italic" font-weight="bold">c</text>
<text transform="translate(301.98 765.50) scale(1.253 1.000)" font-size="21" font-style="italic">t</text>
<text transform="translate(332.69 765.30) scale(0.994 1.000)" font-size="22">1</text>
<text class="ns" transform="translate(387.46 760.40) scale(1.426 1.000)" font-size="33" font-style="italic" font-weight="bold">i</text>
<text transform="translate(401.17 765.50) scale(1.270 1.000)" font-size="21" font-style="italic">t</text>
<text class="ns" transform="translate(454.20 760.40) scale(1.157 1.000)" font-size="33" font-style="italic" font-weight="bold">c</text>
<text transform="translate(470.77 765.50) scale(1.270 1.000)" font-size="21" font-style="italic">t</text>
<text transform="translate(213.70 899.30) scale(1.116 1.000)" font-size="33">tanh</text>
<text class="ns" transform="translate(281.75 899.75) scale(0.908 1.088)" font-size="33">(</text>
<text transform="translate(292.45 899.30) scale(1.066 1.000)" font-size="33">Linear</text>
<text transform="translate(385.39 904.20) scale(1.130 1.000)" font-size="23" font-style="italic">d</text>
<text transform="translate(399.69 907.90) scale(1.331 1.000)" font-size="17" font-style="italic">h</text>
<text class="ns" transform="translate(418.35 899.75) scale(0.890 1.088)" font-size="33">(</text>
<text class="ns" transform="translate(430.92 902.08) scale(0.621 1.189)" font-size="33">[</text>
<text class="ns" transform="translate(439.25 899.30) scale(1.267 1.000)" font-size="33" font-style="italic" font-weight="bold">x</text>
<text transform="translate(459.77 904.40) scale(1.270 1.000)" font-size="21" font-style="italic">t</text>
<text transform="translate(471.06 899.30) scale(1.008 1.000)" font-size="33">,</text>
<text class="ns" transform="translate(486.11 899.30) scale(1.333 1.000)" font-size="33" font-style="italic" font-weight="bold">h</text>
<text transform="translate(508.48 904.40) scale(1.253 1.000)" font-size="21" font-style="italic">t</text>
<text transform="translate(539.19 904.20) scale(0.994 1.000)" font-size="22">1</text>
<text class="ns" transform="translate(553.76 902.08) scale(0.621 1.189)" font-size="33">]</text>
<text class="ns" transform="translate(564.00 899.75) scale(0.942 1.088)" font-size="33">)</text>
<text class="ns" transform="translate(575.59 899.75) scale(0.961 1.088)" font-size="33">)</text>
<text class="ns" transform="translate(905.41 664.10) scale(1.333 1.000)" font-size="33" font-style="italic" font-weight="bold">h</text>
<text transform="translate(927.77 669.20) scale(1.270 1.000)" font-size="21" font-style="italic">t</text>
<text transform="translate(1002.77 671.20) scale(1.270 1.000)" font-size="21" font-style="italic">t</text>
<text class="ns" transform="translate(1055.94 664.10) scale(1.285 1.000)" font-size="33" font-style="italic" font-weight="bold">h</text>
<text transform="translate(1077.48 669.20) scale(1.253 1.000)" font-size="21" font-style="italic">t</text>
<text transform="translate(1108.19 669.00) scale(0.994 1.000)" font-size="22">1</text>
<text class="ns" transform="translate(1163.96 664.10) scale(1.426 1.000)" font-size="33" font-style="italic" font-weight="bold">i</text>
<text transform="translate(1176.77 671.20) scale(1.270 1.000)" font-size="21" font-style="italic">t</text>
<text class="ns" transform="translate(1230.01 664.10) scale(1.333 1.000)" font-size="33" font-style="italic" font-weight="bold">h</text>
<text transform="translate(1252.17 669.20) scale(1.270 1.000)" font-size="21" font-style="italic">t</text>
<text transform="translate(927.77 715.40) scale(1.270 1.000)" font-size="21" font-style="italic">t</text>
<text transform="translate(982.76 710.30) scale(1.046 1.000)" font-size="33" font-style="italic">σ</text>
<text class="ns" transform="translate(1005.05 710.75) scale(0.899 1.088)" font-size="33">(</text>
<text transform="translate(1016.15 710.30) scale(1.059 1.000)" font-size="33">Linear</text>
<text transform="translate(1108.89 715.20) scale(1.130 1.000)" font-size="23" font-style="italic">d</text>
<text transform="translate(1123.19 718.90) scale(1.331 1.000)" font-size="17" font-style="italic">h</text>
<text class="ns" transform="translate(1142.05 710.75) scale(0.890 1.088)" font-size="33">(</text>
<text class="ns" transform="translate(1153.79 710.30) scale(1.333 1.000)" font-size="33" font-style="italic" font-weight="bold">x</text>
<text transform="translate(1175.07 715.40) scale(1.270 1.000)" font-size="21" font-style="italic">t</text>
<text class="ns" transform="translate(1186.40 710.75) scale(0.932 1.088)" font-size="33">)</text>
<text class="ns" transform="translate(1198.90 710.75) scale(0.942 1.088)" font-size="33">)</text>
<text class="ns" transform="translate(913.26 756.50) scale(1.437 1.000)" font-size="33" font-style="italic" font-weight="bold">i</text>
<text transform="translate(927.77 761.60) scale(1.270 1.000)" font-size="21" font-style="italic">t</text>
<text transform="translate(982.76 756.50) scale(1.046 1.000)" font-size="33" font-style="italic">σ</text>
<text class="ns" transform="translate(1005.05 756.95) scale(0.899 1.088)" font-size="33">(</text>
<text transform="translate(1016.15 756.50) scale(1.059 1.000)" font-size="33">Linear</text>
<text transform="translate(1108.89 761.40) scale(1.130 1.000)" font-size="23" font-style="italic">d</text>
<text transform="translate(1123.19 765.10) scale(1.331 1.000)" font-size="17" font-style="italic">h</text>
<text class="ns" transform="translate(1142.05 756.95) scale(0.890 1.088)" font-size="33">(</text>
<text class="ns" transform="translate(1153.79 756.50) scale(1.333 1.000)" font-size="33" font-style="italic" font-weight="bold">x</text>
<text transform="translate(1175.07 761.60) scale(1.270 1.000)" font-size="21" font-style="italic">t</text>
<text class="ns" transform="translate(1186.40 756.95) scale(0.932 1.088)" font-size="33">)</text>
<text class="ns" transform="translate(1198.90 756.95) scale(0.942 1.088)" font-size="33">)</text>
<text class="ns" transform="translate(905.25 811.30) scale(1.267 1.000)" font-size="33" font-style="italic" font-weight="bold">h</text>
<text transform="translate(926.97 816.40) scale(1.270 1.000)" font-size="21" font-style="italic">t</text>
<text transform="translate(982.96 811.30) scale(1.053 1.000)" font-size="33">Linear</text>
<text transform="translate(1075.29 816.20) scale(1.130 1.000)" font-size="23" font-style="italic">d</text>
<text transform="translate(1089.59 819.90) scale(1.331 1.000)" font-size="17" font-style="italic">h</text>
<text class="ns" transform="translate(1108.95 811.75) scale(0.890 1.088)" font-size="33">(</text>
<text class="ns" transform="translate(1120.69 811.30) scale(1.333 1.000)" font-size="33" font-style="italic" font-weight="bold">x</text>
<text transform="translate(1141.97 816.40) scale(1.270 1.000)" font-size="21" font-style="italic">t</text>
<text class="ns" transform="translate(1153.30 811.75) scale(0.932 1.088)" font-size="33">)</text>
<text transform="translate(886.17 890.20) scale(1.270 1.000)" font-size="21" font-style="italic">t</text>
<text transform="translate(898.58 883.10) scale(1.086 1.000)" font-size="33">,</text>
<text class="ns" transform="translate(913.46 883.10) scale(1.437 1.000)" font-size="33" font-style="italic" font-weight="bold">i</text>
<text transform="translate(926.57 890.20) scale(1.270 1.000)" font-size="21" font-style="italic">t</text>
<text transform="translate(1046.57 865.00) scale(1.270 1.000)" font-size="21" font-style="italic">t</text>
<text transform="translate(1013.27 908.60) scale(1.270 1.000)" font-size="21" font-style="italic">t</text>
<text class="ns" transform="translate(1065.56 903.50) scale(1.437 1.000)" font-size="33" font-style="italic" font-weight="bold">i</text>
<text transform="translate(1078.97 908.60) scale(1.270 1.000)" font-size="21" font-style="italic">t</text>
<text class="ns" transform="translate(1149.56 859.90) scale(1.426 1.000)" font-size="33" font-style="italic" font-weight="bold">i</text>
<text transform="translate(1162.77 865.00) scale(1.270 1.000)" font-size="21" font-style="italic">t</text>
<text transform="translate(1132.47 908.60) scale(1.270 1.000)" font-size="21" font-style="italic">t</text>
<text class="ns" transform="translate(1184.76 903.50) scale(1.437 1.000)" font-size="33" font-style="italic" font-weight="bold">i</text>
<text transform="translate(1198.17 908.60) scale(1.270 1.000)" font-size="21" font-style="italic">t</text>
<text transform="translate(1094.68 883.10) scale(1.086 1.000)" font-size="33">,</text>
<text transform="translate(1120.93 1055.70) scale(1.081 1.000)" font-size="33" font-style="italic">O</text>
<text class="ns" transform="translate(1148.66 1056.15) scale(0.871 1.088)" font-size="33">(</text>
<text transform="translate(1159.97 1055.70) scale(1.121 1.000)" font-size="33">3</text>
<text transform="translate(1177.88 1055.70) scale(1.018 1.000)" font-size="33" font-style="italic">d</text>
<text transform="translate(1195.42 1060.60) scale(1.222 1.000)" font-size="23" font-style="italic">h</text>
<text transform="translate(1211.48 1055.70) scale(1.012 1.000)" font-size="33" font-style="italic">d</text>
<text transform="translate(1230.26 1060.60) scale(1.286 1.000)" font-size="23" font-style="italic">x</text>
<text class="ns" transform="translate(1247.02 1056.15) scale(0.893 1.088)" font-size="33">)</text>
<text transform="translate(400.54 1092.12) scale(1.136 1.000)" font-size="33" font-style="italic">O</text>
<text class="ns" transform="translate(429.35 1092.57) scale(0.890 1.088)" font-size="33">(</text>
<text transform="translate(440.94 1092.12) scale(1.080 1.000)" font-size="33">4</text>
<text transform="translate(458.76 1092.12) scale(1.042 1.000)" font-size="33" font-style="italic">d</text>
<text transform="translate(476.83 1097.02) scale(1.212 1.000)" font-size="23" font-style="italic">h</text>
<text class="ns" transform="translate(494.16 1092.57) scale(0.852 1.088)" font-size="33">(</text>
<text transform="translate(504.56 1092.12) scale(1.042 1.000)" font-size="33" font-style="italic">d</text>
<text transform="translate(523.94 1097.02) scale(1.238 1.000)" font-size="23" font-style="italic">x</text>
<text transform="translate(576.06 1092.12) scale(1.048 1.000)" font-size="33" font-style="italic">d</text>
<text transform="translate(594.12 1097.02) scale(1.222 1.000)" font-size="23" font-style="italic">h</text>
<text class="ns" transform="translate(612.11 1092.57) scale(0.922 1.088)" font-size="33">)</text>
<text class="ns" transform="translate(623.91 1092.57) scale(0.922 1.088)" font-size="33">)</text>
<text transform="translate(650.33 1237.80) scale(1.112 1.000)" font-size="33" font-style="italic">α</text>
<text transform="translate(716.22 1237.80) scale(1.002 1.000)" font-size="33">1</text>
<text transform="translate(732.86 1237.80) scale(1.105 1.000)" font-size="33">,</text>
<text transform="translate(746.26 1237.80) scale(1.200 1.000)" font-size="33">2</text>
<text transform="translate(765.40 1237.80) scale(1.067 1.000)" font-size="33">,</text>
<text transform="translate(776.94 1237.80) scale(1.200 1.000)" font-size="33">3</text>
<text transform="translate(796.68 1237.80) scale(1.086 1.000)" font-size="33">,</text>
<text transform="translate(1130.16 1237.80) scale(1.042 1.000)" font-size="33" font-style="italic">d</text>
<text transform="translate(1148.44 1242.70) scale(1.193 1.000)" font-size="23" font-style="italic">h</text>
<text transform="translate(1208.31 1237.80) scale(1.152 1.000)" font-size="33" font-style="italic">α</text>
<text transform="translate(1228.58 1237.80) scale(1.012 1.000)" font-size="33" font-style="italic">d</text>
<text transform="translate(1247.36 1242.70) scale(1.286 1.000)" font-size="23" font-style="italic">x</text>
<text transform="translate(1262.55 1237.80) scale(1.091 1.000)" font-size="33">.</text>
</svg>

<svg class="wmk" width="1432" height="1282" viewBox="0 0 1432 1282"><defs><filter id="ds" x="-5%" y="-20%" width="110%" height="150%"><feOffset in="SourceAlpha" dx="2.7" dy="2.0" result="o"/><feGaussianBlur in="o" stdDeviation="0.3" result="bl"/><feFlood flood-color="#aeaeae" flood-opacity="0.95"/><feComposite in2="bl" operator="in" result="sh"/><feMerge><feMergeNode in="sh"/><feMergeNode in="SourceGraphic"/></feMerge></filter></defs>
<g filter="url(#ds)">
<g fill="none" stroke="#fff" stroke-width="3.4" stroke-linecap="butt" stroke-linejoin="round" transform="translate(1105.7 1199.8)">
<path d="M7.2 2.6L1.8 10.4M5.2 5.2H20.2M1.4 16.8H20.4M13.8 5.2V17.5C13.6 25 8.5 31.5 1.6 35.4M14.4 20.5C15.5 26 17.3 31 19.6 35M24.9 4.6H39.8V30.6H24.9Z"/>
<path d="M84 0.6C77 2.4 66 3.6 55.5 4.2M55.6 6.5L59.2 12.6M82.2 6.2L76.4 12.6M47 18H86.2M65.4 3.4V30.2C65.4 34.2 63.2 35.2 58.6 34.4"/>
</g>
<text x="1209.8" y="1230.6" font-family="Liberation Sans" font-size="41" fill="#fff" style="fill:#fff" textLength="184" lengthAdjust="spacingAndGlyphs">@Hugues</text>
</g></svg>
</body></html>
